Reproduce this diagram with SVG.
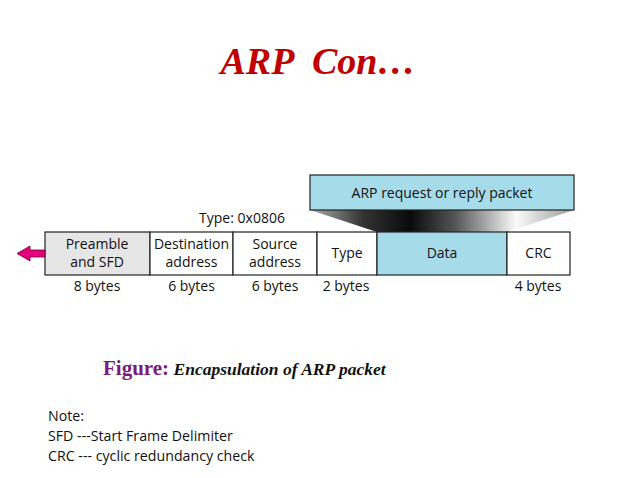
<svg xmlns="http://www.w3.org/2000/svg" width="638" height="478" viewBox="0 0 638 478">
<defs>
<style>
.t{font-family:"Open Sans","Liberation Sans",sans-serif;font-size:14px;fill:#111;text-anchor:middle}
.box{stroke:#222;stroke-width:1.2}
.note{font-family:"Open Sans","Liberation Sans",sans-serif;font-size:14.2px;fill:#111}
</style>
<linearGradient id="g" x1="0" y1="0" x2="1" y2="0">
<stop offset="0" stop-color="#b0b0b0"/>
<stop offset="0.2" stop-color="#333"/>
<stop offset="0.38" stop-color="#0a0a0a"/>
<stop offset="0.55" stop-color="#555"/>
<stop offset="0.78" stop-color="#fafafa"/>
<stop offset="1" stop-color="#999"/>
</linearGradient>
</defs>
<rect width="638" height="478" fill="#fff"/>
<text x="318" y="74" font-family="Liberation Serif,serif" font-size="38" font-weight="bold" font-style="italic" fill="#c00000" text-anchor="middle" xml:space="preserve">ARP  Con…</text>
<g id="arp-packet">
<path d="M310 210 L574 210 L507 232 L377 232 Z" fill="url(#g)"/>
<rect class="box" x="310" y="175" width="264" height="35" fill="#a6dcea"/>
<text class="t" x="442" y="198">ARP request or reply packet</text>
</g>
<text class="t" x="242" y="223">Type: 0x0806</text>
<g id="preamble"><rect class="box" x="45" y="232" width="105" height="43" fill="#e6e6e6"/><text class="t" x="97" y="249">Preamble</text><text class="t" x="97" y="267">and SFD</text></g>
<g id="dest"><rect class="box" x="150" y="232" width="83" height="43" fill="#fff"/><text class="t" x="191.5" y="249">Destination</text><text class="t" x="191.5" y="267">address</text></g>
<g id="src"><rect class="box" x="233" y="232" width="84" height="43" fill="#fff"/><text class="t" x="275" y="249">Source</text><text class="t" x="275" y="267">address</text></g>
<g id="type"><rect class="box" x="317" y="232" width="60" height="43" fill="#fff"/><text class="t" x="347" y="258">Type</text></g>
<g id="data"><rect class="box" x="377" y="232" width="130" height="43" fill="#a6dcea"/><text class="t" x="442" y="258">Data</text></g>
<g id="crc"><rect class="box" x="507" y="232" width="63" height="43" fill="#fff"/><text class="t" x="538.5" y="258">CRC</text></g>
<g id="sizes">
<text class="t" x="97" y="291">8 bytes</text>
<text class="t" x="191.5" y="291">6 bytes</text>
<text class="t" x="275" y="291">6 bytes</text>
<text class="t" x="346" y="291">2 bytes</text>
<text class="t" x="538" y="291">4 bytes</text>
</g>
<g id="connectors">
<path d="M45 250 L30 250 L30 246 L17 253.5 L30 261 L30 257 L45 257 Z" fill="#e6007e" stroke="#6a0038" stroke-width="0.8"/>
</g>
<text x="103" y="375" font-family="Liberation Serif,serif" font-weight="bold"><tspan font-size="21" fill="#7b1a7b">Figure:</tspan><tspan font-size="17.5" font-style="italic" fill="#111"> Encapsulation of ARP packet</tspan></text>
<text class="note" x="48" y="421">Note:</text>
<text class="note" x="48" y="441">SFD ---Start Frame Delimiter</text>
<text class="note" x="48" y="461">CRC --- cyclic redundancy check</text>
</svg>
